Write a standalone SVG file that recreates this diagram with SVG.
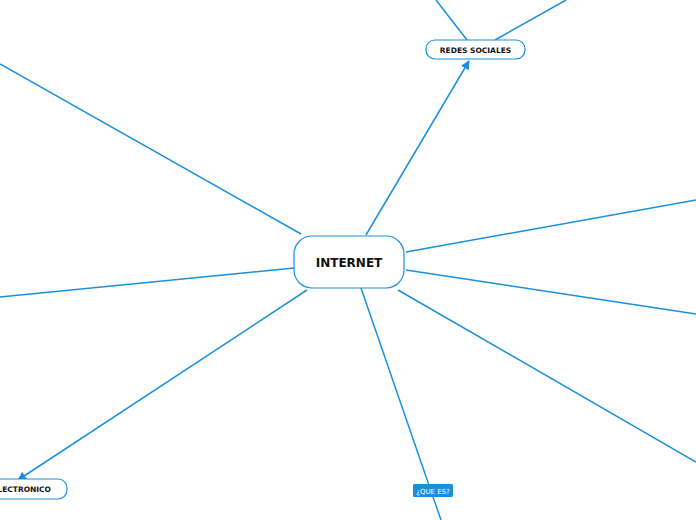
<svg xmlns="http://www.w3.org/2000/svg" width="696" height="520" viewBox="0 0 696 520">
<style>
.c{stroke:#1a90dc;stroke-width:1.5;fill:none}
.n{fill:#fff;stroke:#1a90dc;stroke-width:1.2}
.t{font-family:"DejaVu Sans",Verdana,sans-serif;font-weight:bold;fill:#111}
</style>
<defs><marker id="a" viewBox="0 0 10 10" refX="9" refY="5" markerWidth="6" markerHeight="6" orient="auto"><path d="M0,0L10,5L0,10z" fill="#1a90dc"/></marker></defs>
<rect width="696" height="520" fill="#fff"/>
<g id="connectors">
<line class="c" x1="366" y1="235" x2="469" y2="61" marker-end="url(#a)"/>
<line class="c" x1="307" y1="290" x2="18" y2="480" marker-end="url(#a)"/>
<line class="c" x1="301" y1="234" x2="0" y2="64"/>
<line class="c" x1="294" y1="268" x2="0" y2="297"/>
<line class="c" x1="406" y1="252" x2="696" y2="200"/>
<line class="c" x1="406" y1="270" x2="696" y2="314"/>
<line class="c" x1="398" y1="290" x2="696" y2="462"/>
<line class="c" x1="361" y1="288" x2="441" y2="520"/>
<line class="c" x1="467" y1="40" x2="436" y2="0"/>
<line class="c" x1="495" y1="40" x2="566" y2="0"/>
</g>
<g id="internet"><rect class="n" x="294" y="236" width="110" height="52" rx="18"/><text class="t" x="349" y="267" font-size="12" text-anchor="middle">INTERNET</text></g>
<g id="redes"><rect class="n" x="426" y="40" width="99" height="19" rx="9"/><text class="t" x="475.5" y="52.5" font-size="7.5" text-anchor="middle">REDES SOCIALES</text></g>
<g id="correo"><rect class="n" x="-40" y="479" width="107" height="20" rx="9"/><text class="t" x="51" y="492" font-size="7.5" text-anchor="end">ELECTRONICO</text></g>
<g id="quees"><rect x="413" y="484" width="40" height="13" rx="1.5" fill="#1a90dc"/><text x="433" y="493.5" font-size="7" text-anchor="middle" fill="#fff" font-family="DejaVu Sans,Verdana,sans-serif">¿QUE ES?</text></g>
</svg>
